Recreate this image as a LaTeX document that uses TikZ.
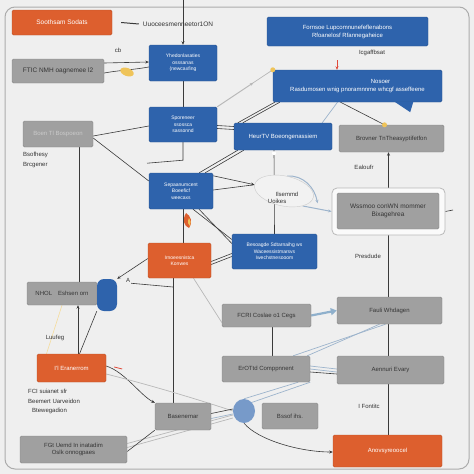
\documentclass[tikz,border=0pt]{standalone}
\usepackage{fontspec}
\setmainfont{Liberation Sans}
\usetikzlibrary{arrows.meta,shapes.geometric,calc}
\definecolor{bgc}{HTML}{EFEFEF}
\definecolor{orc}{HTML}{DD5F2E}
\definecolor{blc}{HTML}{2E63AC}
\definecolor{grc}{HTML}{A0A0A0}
\definecolor{gtx}{HTML}{353535}
\definecolor{txc}{HTML}{333333}
\definecolor{lnc}{HTML}{3A3A3A}
\definecolor{lbc}{HTML}{9DB4CC}
\definecolor{lgc}{HTML}{B8B8B8}
\definecolor{stc}{HTML}{8FB0CC}
\definecolor{redc}{HTML}{E04A3A}
\definecolor{yel}{HTML}{EFC45A}
\pgfdeclarelayer{bg}
\pgfdeclarelayer{edges}
\pgfsetlayers{bg,edges,main}
\begin{document}
\begin{tikzpicture}[x=1pt,y=-1pt,
  box/.style={rectangle, rounded corners=1.5pt, inner sep=1pt, align=center, font=\fontsize{6}{7.5}\selectfont},
  bx/.style 2 args={minimum width=#1pt, minimum height=#2pt},
  ob/.style={box, fill=orc, draw=orc!85!black, text=white},
  bb/.style={box, fill=blc, draw=blc!85!black, text=white},
  gb/.style={box, fill=grc, draw=grc!85!black, text=gtx},
  fr/.style={rectangle, rounded corners=5pt, draw=gray!55, fill=white!70!bgc, line width=0.8pt},
  lbl/.style={font=\fontsize{6}{7.5}\selectfont, text=txc, align=left, inner sep=1pt},
  ln/.style={draw=lnc, line width=0.6pt},
  lnl/.style={draw=lbc, line width=0.7pt},
  lgr/.style={draw=lgc, line width=0.7pt},
  arr/.style={-{Stealth[length=3.5pt,width=3pt]}},
]
\useasboundingbox (0,0) rectangle (474,474);
\begin{pgfonlayer}{bg}
\fill[bgc] (0,0) rectangle (474,474);
\draw[gray!65, line width=1pt, rounded corners=10pt] (5,7) rectangle (469,469);
\end{pgfonlayer}

% nodes
\node[ob, bx={100}{25}, font=\fontsize{6.5}{8}\selectfont] (n1) at (62,22.5) {Soothsam Sodats};
\node[lbl, font=\fontsize{6.5}{8}\selectfont] (t2) at (178,24) {Uuoceesmenneetor1ON};
\node[gb, bx={92}{24}, font=\fontsize{6.5}{8}\selectfont] (n3) at (58,71) {FTIC NMH oagnemee l2};
\node[bb, bx={68}{36}, font=\fontsize{5}{6.5}\selectfont] (n4) at (183,63) {Yhedonlasaties\\osssanas\\(newcaxfing};
\node[lbl] (t5) at (118,50) {cb};
\node[bb, bx={161}{29}, font=\fontsize{6}{8}\selectfont] (n6) at (347.5,31.5) {Fornsoe Lupcomnunefeflenabons\\Rfoanelosf Rfannegaheice};
\node[lbl] (t7) at (372,53) {Icgaffbsat};
\node[bb, bx={169}{32}, font=\fontsize{6}{7.5}\selectfont] (n8) at (357.5,86) {\hspace*{46pt}Nosoer\\Rasdumosen wnig pnoramnnme whcgf asseffeene};
\node[bb, bx={68}{35}, font=\fontsize{5}{6.5}\selectfont] (n9) at (183,124.5) {Sporeneer\\ssossca\\sassonnd};
\node[gb, bx={70}{26}, text=grc!55!white] (n10) at (58,134) {Boen Tl Bospoeon};
\node[lbl, anchor=north west] (t11) at (22,151) {Bsofhesy\\[2pt]Brcgener};
\node[bb, bx={64}{36}, font=\fontsize{5}{6.5}\selectfont] (n12) at (181,191) {Sepaanumcent\\Boeeficf\\weecaxs};
\node[bb, bx={98}{27}] (n13) at (283,136.5) {HeurTV Boeongenassiem};
\node[gb, bx={105}{27}] (n14) at (391.5,138.5) {Brovner TnTheasyptifetfon};
\node[lbl] (t15) at (364,167) {Ealoufr};
\node[fr, bx={113}{47}] (n16f) at (388.5,211.5) {};
\node[gb, bx={102}{36}, font=\fontsize{6.5}{8.5}\selectfont] (n16) at (388,211) {Wssmoo conWN mommer\\Bixagehrea};
\node[ellipse, fill=gray!10, draw=gray!40, minimum width=60pt, minimum height=30pt, rotate=-12] (el) at (284,191) {};
\node[lbl, align=right] (t17) at (281,198) {\hspace*{12pt}Ilsemmd\\Uoikes\hspace*{12pt}};
\node[bb, bx={85}{35}, font=\fontsize{5}{6.5}\selectfont] (n18) at (274.5,251.5) {Besoagde Sdtarnaihg ws\\Waceessistmarsvs\\Iwechstnesooom};
\node[lbl] (t19) at (368,256) {Presdude};
\node[ob, bx={63}{35}, font=\fontsize{5}{6.5}\selectfont] (n20) at (179.5,260.5) {Irnoeesnistca\\Konwes};
\node[gb, bx={70}{23}] (n21) at (62,293.5) {NHOL\quad Eshsen orn};
\node[fill=blc, draw=none, minimum width=20pt, minimum height=32pt, rounded corners=7pt] (b1) at (107,295) {};
\node[lbl] (t22) at (128,280) {A};
\coordinate (cA) at (173,287);
\node[gb, bx={89}{23}] (n23) at (266.5,315.5) {FCRI Coslae o1 Cegs};
\node[gb, bx={105}{27}] (n24) at (389.5,310.5) {Fauli Whdagen};
\node[lbl] (t25) at (55,338) {Luufeg};
\node[ob, bx={69}{28}] (n26) at (71.5,368) {I'l Eranerrom};
\node[lbl, anchor=north west] (t27) at (27,388) {FCI suianet sfr\\[2pt]Beemert Uarveidon\\[2pt]\hspace*{4pt}Btewegadion};
\node[gb, bx={56}{27}] (n28) at (183,416.5) {Basenemar};
\node[gb, bx={107}{27}] (n29) at (73.5,449.5) {FGt Uemd In inatadim\\Oslk onnogpaes};
\node[gb, bx={88}{26}] (n30) at (266,369) {ErOTtd Comppnnent};
\node[gb, bx={107}{28}] (n31) at (390.5,370) {Aennuri Evary};
\node[gb, bx={56}{26}] (n32) at (290,416) {Bssof ihs.};
\node[ellipse, fill=blc!65, draw=none, minimum width=22pt, minimum height=24pt] (b2) at (244,411) {};
\node[lbl] (t33) at (369,406) {I Fontitc};
\node[ob, bx={109}{32}] (n34) at (387.5,451) {Anovsyreoocel};
\coordinate (c0) at (183,0);
\coordinate (c16) at (453,210);

% decorations
\fill[blc] ($(n8.south east)+(-47,0)$) -- ++(18,0) -- ++(-3,10) -- cycle;
\fill[orc] (186,213) .. controls (182,220) and (184,226) .. (189,228) .. controls (193,222) and (191,216) .. (186,213);
\fill[yel] (189,218) .. controls (187,222) and (188,225) .. (190,226) .. controls (191,223) and (191,220) .. (189,218);
\fill[yel] (n8.north west) circle (2.5pt);
\fill[yel] ([xshift=-7pt]n14.north) circle (2.5pt);
\fill[yel, rotate around={-20:(127,72)}] (127,72) ellipse (7pt and 4pt);
\fill[white] ([xshift=-9pt,yshift=-3pt]n13.south) circle (2pt);

\begin{pgfonlayer}{edges}
\draw[ln,arr] (c0) -- (n4.north);
\draw[ln] (n4.south) -- (n9.north);
\draw[ln, line width=1pt] ([xshift=9pt]n1.east) -- ([xshift=-3pt]t2.west);
\draw[ln,arr] ([yshift=8pt]n3.east) -- ([yshift=1pt]n4.west);
\draw[ln] ([yshift=-2pt]n3.east) to[out=10,in=190] ([yshift=-4pt]n4.west);
\draw[ln] ([yshift=-1.5pt]n9.west) -- ([yshift=-2pt]n10.east);
\draw[ln] ([yshift=-4pt]n10.east) -- ([yshift=10pt]n12.west);
\draw[ln] (n9.south) -- ++(0,18) -- ++(-36,3);
\draw[ln] ([yshift=-1pt]n9.east) -- ([yshift=10pt]n13.west);
\draw[ln] ([yshift=-4pt]n9.east) -- ([yshift=7pt]n13.west);
\draw[ln] ([xshift=-14pt]n12.north east) -- ([xshift=4pt]n13.south west);
\draw[ln] ([xshift=-8pt]n12.north east) -- ([xshift=10pt]n13.south west);
\draw[ln] ([xshift=2pt]n8.south west) -- ([xshift=4pt]n13.north west);
\draw[ln] ([xshift=7pt]n8.south west) -- ([xshift=9pt]n13.north west);
\draw[lgr, line width=1pt, arr] (n9.north east) -- ($(n9.north east)!0.65!(n8.north west)$);
\draw[lgr] ($(n9.north east)!0.6!(n8.north west)$) -- (n8.north west);
\draw[lnl] ([xshift=-20pt]n8.south) -- ([xshift=-10pt]n13.north east);
\draw[ln] ([xshift=-17pt]n8.south) -- ([xshift=-7pt]n14.north);
\draw[redc, line width=1pt, arr] ([xshift=-10.5pt,yshift=-14pt]n6.south) -- ([xshift=-20.5pt]n8.north);
\draw[ln] ([xshift=-9pt]n13.south) -- (n18.north);
\draw[ln] ([yshift=1pt]n12.east) -- (el.west);
\draw[ln,arr] ([yshift=-3pt]n12.north east) -- (el.west);
\draw[lnl, line width=1pt, arr] (el.north) to[out=5,in=100] ($(el.east)+(4,6)$);
\draw[lnl, line width=1pt, arr] (el.south east) -- (n16f.west);
\draw[ln,arr] (n16f.north) -- (n16f.north |- n14.south);
\draw[ln] (n16f.south) -- (n16f.south |- n24.north);
\draw[ln] ([xshift=-1.5pt]n24.south) -- ([xshift=-2.5pt]n31.north);
\draw[ln] ([xshift=-2.5pt]n31.south) -- ([xshift=0.5pt]n34.north);
\draw[ln] (n16f.east) -- (c16);
\draw[ln] ([xshift=2pt]n12.south) -- ([xshift=3.5pt]n20.north);
\draw[ln] ([xshift=12pt]n12.south) -- ([yshift=12pt]n18.west);
\draw[ln] ([xshift=18pt]n12.south) -- ([yshift=8pt]n18.west);
\draw[ln] ([yshift=-1pt]n20.east) -- ([yshift=-2pt]n18.west);
\draw[ln] ([yshift=-4pt]n20.east) -- ([yshift=-5pt]n18.west);
\draw[ln,arr] ([yshift=2pt]n20.west) -- (b1.north east);
\draw[ln] (t22.south east) -- (cA);
\draw[ln] ([xshift=-6.5pt]n20.south) -- ([xshift=-10pt]n28.north);
\draw[lgr] ([xshift=14pt]n20.south) -- ([yshift=-7pt]n23.west);
\draw[ln] ([xshift=21pt]n10.south) -- ([xshift=17pt]n21.north);
\draw[ln,arr] ([xshift=6.5pt]n26.north) -- ([xshift=16pt]n21.south);
\draw[yel!60, line width=0.6pt] ([xshift=0pt]n21.south) -- ([xshift=-25pt]n26.north);
\draw[ln] (b1.south west) -- ([xshift=8pt]n26.north);
\draw[stc, line width=2.2pt, -{Triangle[length=6pt,width=7pt]}] (n23.east) -- (n24.west);
\draw[ln] ([xshift=5.5pt]n23.south) -- ([xshift=6pt]n30.north);
\draw[lnl] ([xshift=-4pt]n24.south) -- ([xshift=-17pt]n30.north east);
\draw[lnl] ([xshift=-10pt]n24.south) -- ([xshift=-3pt]n30.north east);
\draw[lnl] (n30.south east) -- (b2.north east);
\draw[lnl] ([xshift=-12pt]n30.south east) -- (b2.north);
\draw[lnl] ([yshift=3pt]n30.east) -- ([yshift=1pt]n31.west);
\draw[lnl] ([yshift=0pt]n30.east) -- ([yshift=-2pt]n31.west);
\draw[ln] ([yshift=-3pt]n30.east) -- ([yshift=-4pt]n31.west);
\draw[ln,arr] ([yshift=2pt]n26.east) .. controls (125,372) and (140,395) .. (n28.north west);
\draw[redc, line width=0.8pt] ([xshift=8pt,yshift=1pt]n26.east) -- ([xshift=16pt,yshift=-1pt]n26.east);
\draw[lgr] ([yshift=-6pt]n26.east) .. controls (150,385) and (200,400) .. (b2.west);
\draw[ln] ([yshift=3pt]n28.east) -- ([yshift=2pt]b2.west);
\draw[lnl] ([yshift=-2pt]n28.east) -- ([yshift=-3pt]b2.west);
\draw[lgr] ([yshift=6pt]n29.east) -- ([yshift=-4pt]b2.west);
\draw[lgr] ([yshift=2pt]n29.east) -- ([yshift=-7pt]b2.west);
\draw[ln] ([yshift=-2pt]n29.east) -- (n28.south west);
\draw[ln,arr] (b2.south) .. controls (258,440) and (300,452) .. ([yshift=-1pt]n34.west);
\end{pgfonlayer}
\end{tikzpicture}
\end{document}
